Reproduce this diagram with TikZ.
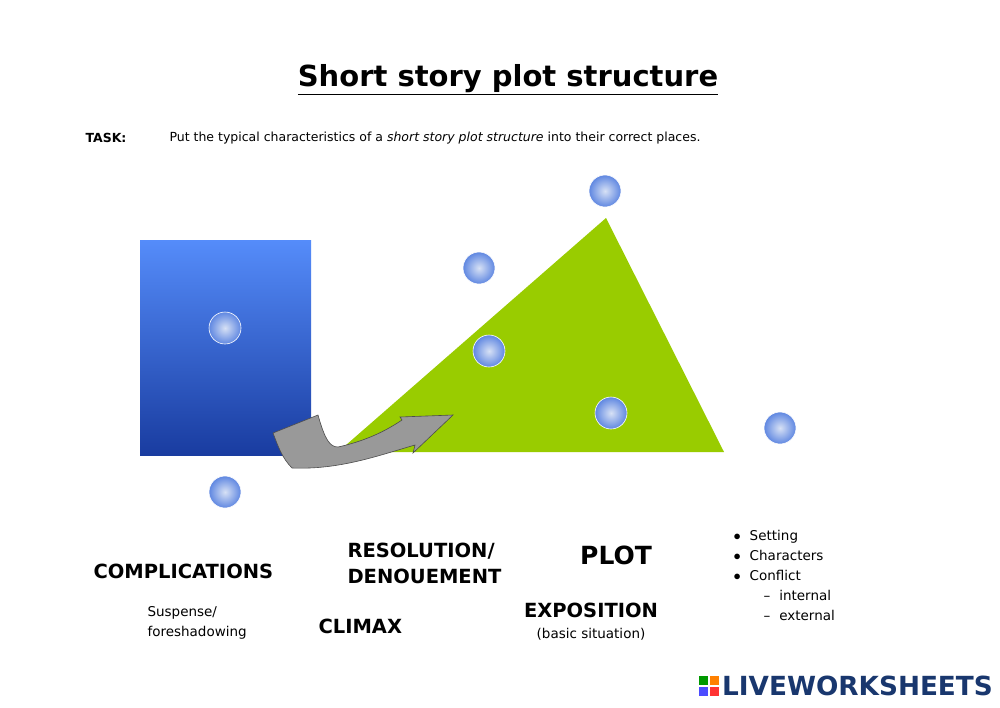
\documentclass[tikz,border=0pt]{standalone}
\usepackage{fontspec}
\setmainfont{DejaVu Sans}
\definecolor{tri}{RGB}{153,204,0}
\definecolor{btop}{RGB}{85,140,250}
\definecolor{bbot}{RGB}{25,60,160}
\definecolor{dotin}{RGB}{215,225,245}
\definecolor{dotout}{RGB}{95,135,225}
\definecolor{navy}{RGB}{25,55,110}
\begin{document}
\begin{tikzpicture}[x=1pt,y=-1pt,
  dot/.style={circle,minimum size=32pt,inner sep=0pt,shading=radial,inner color=dotin,outer color=dotout,draw=white,line width=0.6pt},
  lab/.style={font=\bfseries\fontsize{19.5}{23}\selectfont,align=left},
  sm/.style={font=\fontsize{13.5}{16}\selectfont,align=left}]
\useasboundingbox (0,0) rectangle (1000,707);
\fill[white] (0,0) rectangle (1000,707);
\node (title) at (508,80) {\bfseries\fontsize{29}{33}\selectfont\underline{Short story plot structure}};
\node[anchor=west] (task) at (82,138) {\bfseries\fontsize{12.5}{15}\selectfont TASK:};
\node[anchor=west] (tasktxt) at (166,138) {\fontsize{12.5}{15}\selectfont Put the typical characteristics of a \textit{short story plot structure} into their correct places.};
\shade[top color=btop, bottom color=bbot] (140,240) rectangle (311,455);
\fill[tri] (338,452) -- (606,218) -- (724,452) -- cycle;
\filldraw[fill=gray!80,draw=black!70,line width=0.6pt] (273,433) -- (318,415) .. controls (325,440) and (330,447) .. (338,447) .. controls (370,440) and (390,428) .. (402,420) -- (400,417) -- (453,415) -- (413,453) -- (415,445) .. controls (380,455) and (340,470) .. (292,468) .. controls (282,458) and (278,446) .. (273,433) -- cycle;
\foreach \n/\p in {a/{(225,328)},b/{(225,492)},c/{(479,268)},d/{(489,351)},e/{(605,191)},f/{(611,413)},g/{(780,428)}}
  \node[dot] (\n) at \p {};
\node[lab,anchor=west] (compl) at (90,571) {COMPLICATIONS};
\node[sm,anchor=north west,font=\fontsize{13.5}{20}\selectfont] (susp) at (144,603) {Suspense/\\foreshadowing};
\node[lab,anchor=west] (clim) at (315,626) {CLIMAX};
\node[lab,anchor=west,font=\bfseries\fontsize{19.5}{26}\selectfont] (res) at (344,563) {RESOLUTION/\\DENOUEMENT};
\node[lab,font=\bfseries\fontsize{25}{28}\selectfont] (plot) at (616,555) {PLOT};
\node[lab] (expo) at (591,610) {EXPOSITION};
\node[sm] (basic) at (591,634) {(basic situation)};
\node[sm,anchor=north west,font=\fontsize{13.5}{20}\selectfont] (list) at (730,527) {$\bullet$\hspace{9pt}Setting\\$\bullet$\hspace{9pt}Characters\\$\bullet$\hspace{9pt}Conflict\\\hspace{30pt}--\hspace{9pt}internal\\\hspace{30pt}--\hspace{9pt}external};
\node[anchor=west,inner sep=0pt] (logo) at (722,686) {\bfseries\fontsize{26.3}{28}\selectfont\color{navy}LIVEWORKSHEETS};
\fill[green!60!black] (699,676) rectangle (708,685);
\fill[orange] (710,676) rectangle (719,685);
\fill[blue!70] (699,687) rectangle (708,696);
\fill[red!80] (710,687) rectangle (719,696);
\end{tikzpicture}
\end{document}
